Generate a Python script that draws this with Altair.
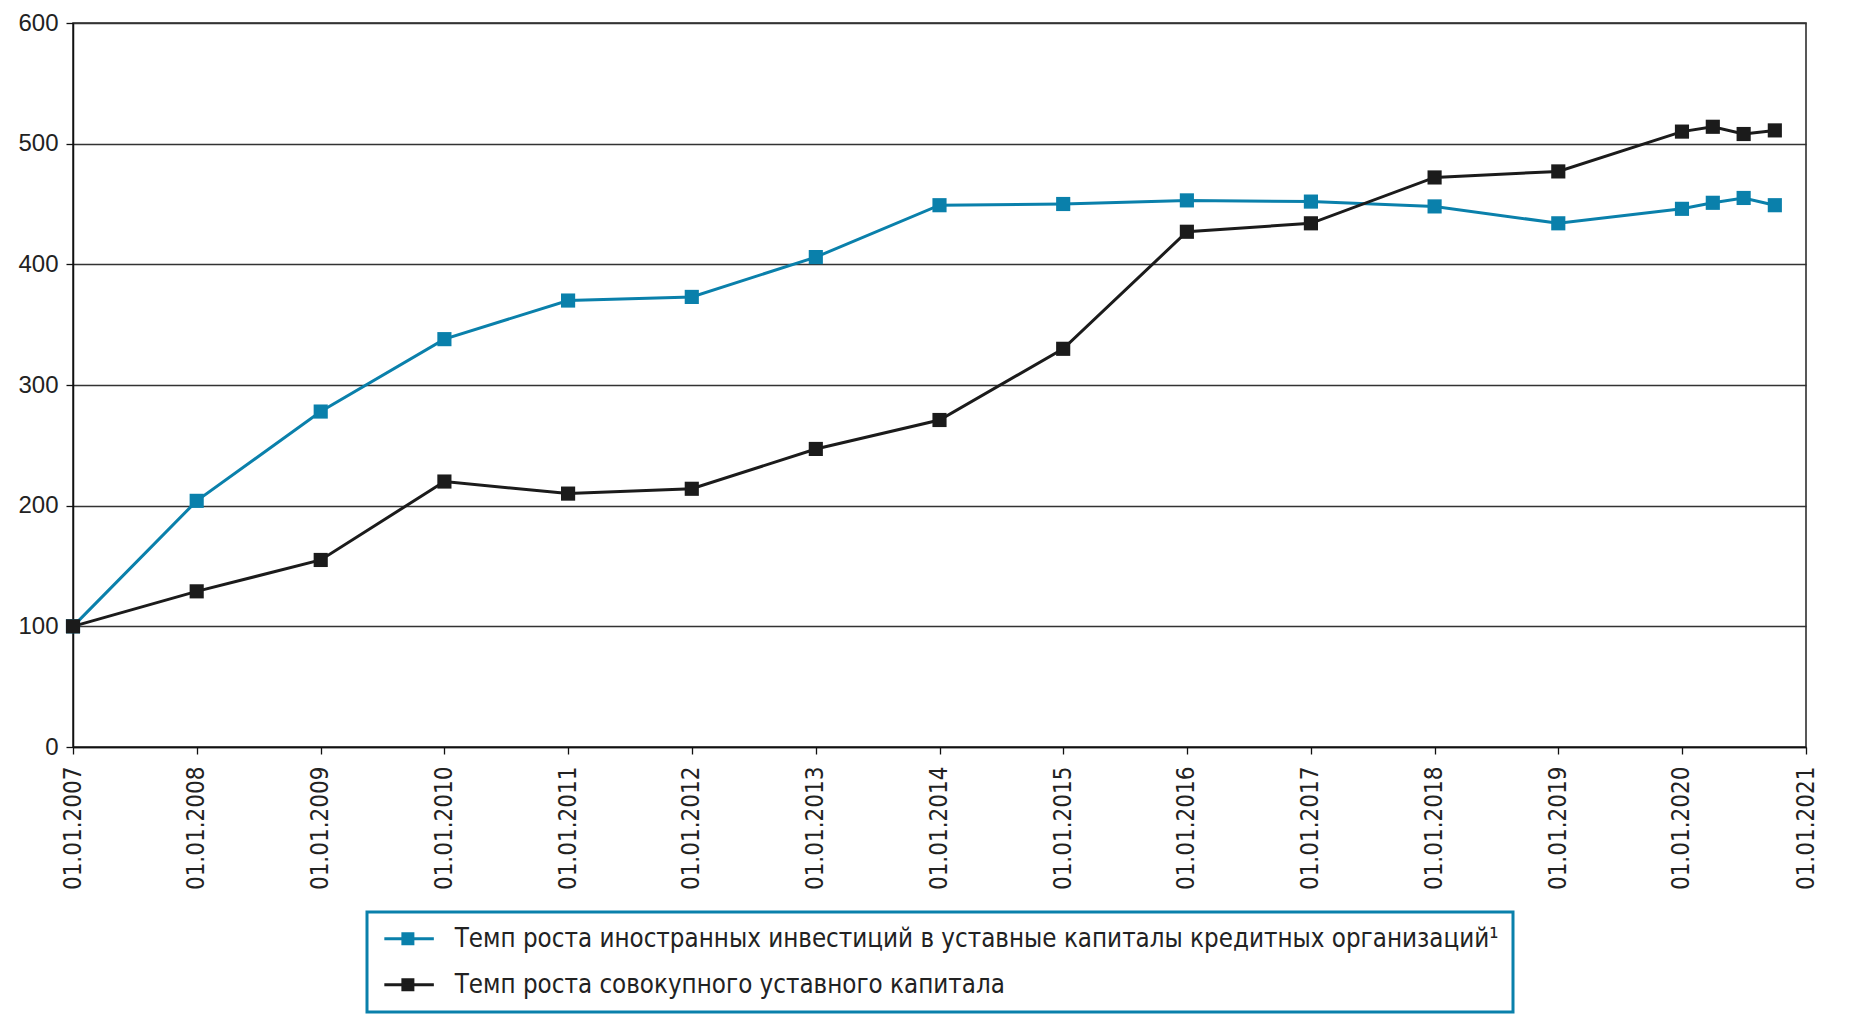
import altair as alt
import pandas as pd

dates = ["2007-01-01", "2008-01-01", "2009-01-01", "2010-01-01", "2011-01-01",
         "2012-01-01", "2013-01-01", "2014-01-01", "2015-01-01", "2016-01-01",
         "2017-01-01", "2018-01-01", "2019-01-01", "2020-01-01", "2020-04-01",
         "2020-07-01", "2020-10-01"]
foreign = [100, 204, 278, 338, 370, 373, 406, 449, 450, 453, 452, 448, 434, 446, 451, 455, 449]
total = [100, 129, 155, 220, 210, 214, 247, 271, 330, 427, 434, 472, 477, 510, 514, 508, 511]
series_names = [
    "Темп роста иностранных инвестиций в уставные капиталы кредитных организаций¹",
    "Темп роста совокупного уставного капитала",
]
colors = ["#0a80ab", "#1b1b1b"]
tick_years = list(range(2007, 2022))
y_ticks = [0, 100, 200, 300, 400, 500, 600]

df = pd.DataFrame({
    "date": dates + dates,
    "value": foreign + total,
    "series": [series_names[0]] * len(dates) + [series_names[1]] * len(dates),
})

NARROW = "DejaVu Sans Condensed, Liberation Sans, sans-serif"
REG = "Liberation Sans, Arial, sans-serif"

x_enc = alt.X(
    "date:T",
    scale=alt.Scale(type="utc",
                    domain=[alt.DateTime(year=2007, month=1, date=1, utc=True),
                            alt.DateTime(year=2021, month=1, date=1, utc=True)],
                    nice=False),
    axis=alt.Axis(values=[alt.DateTime(year=y, month=1, date=1, utc=True) for y in tick_years],
                  format="%d.%m.%Y", labelAngle=-90, labelFont=NARROW, labelFontSize=24,
                  labelColor="#222", labelPadding=12, tickSize=7, grid=False, title=None,
                  labelOverlap=False),
)
y_enc = alt.Y(
    "value:Q",
    scale=alt.Scale(domain=[0, 600], nice=False),
    axis=alt.Axis(values=y_ticks, labelFont=REG, labelFontSize=24, labelColor="#222",
                  labelPadding=8, tickSize=7, grid=True, title=None),
)

sym_path = "M-1.19,0H5.0M1.13,-0.625H2.38V0.625H1.13Z"
leg = alt.Legend(
    title=None, orient="none", legendX=294, legendY=889, direction="vertical",
    symbolType=sym_path, symbolSize=256, symbolStrokeWidth=3,
    labelFont=NARROW, labelFontSize=25.7, labelColor="#222", labelLimit=3000,
    labelOffset=48, rowPadding=19, padding=14, strokeColor="#0a80ab", fillColor="white",
)
scale_c = alt.Scale(domain=series_names, range=colors)

lines = alt.Chart(df).mark_line(strokeWidth=3).encode(
    x=x_enc, y=y_enc,
    stroke=alt.Stroke("series:N", scale=scale_c, legend=leg),
)
pts = alt.Chart(df).mark_square(size=200, opacity=1).encode(
    x=x_enc, y=y_enc,
    fill=alt.Fill("series:N", scale=scale_c, legend=leg),
)

chart = alt.layer(lines, pts).properties(
    width=1733, height=724,
    autosize=alt.AutoSizeParams(type="none"),
    padding={"left": 65, "top": 15, "right": 30, "bottom": 268},
).configure_view(
    stroke="#222", strokeWidth=1.5
).configure_axis(
    domainColor="#111", domainWidth=1.5, tickColor="#111", tickWidth=1.3,
    gridColor="#333", gridWidth=1.3,
).configure_legend(
    strokeWidth=3
)

chart.save("out.html", embed_options={"renderer": "svg", "actions": False})
